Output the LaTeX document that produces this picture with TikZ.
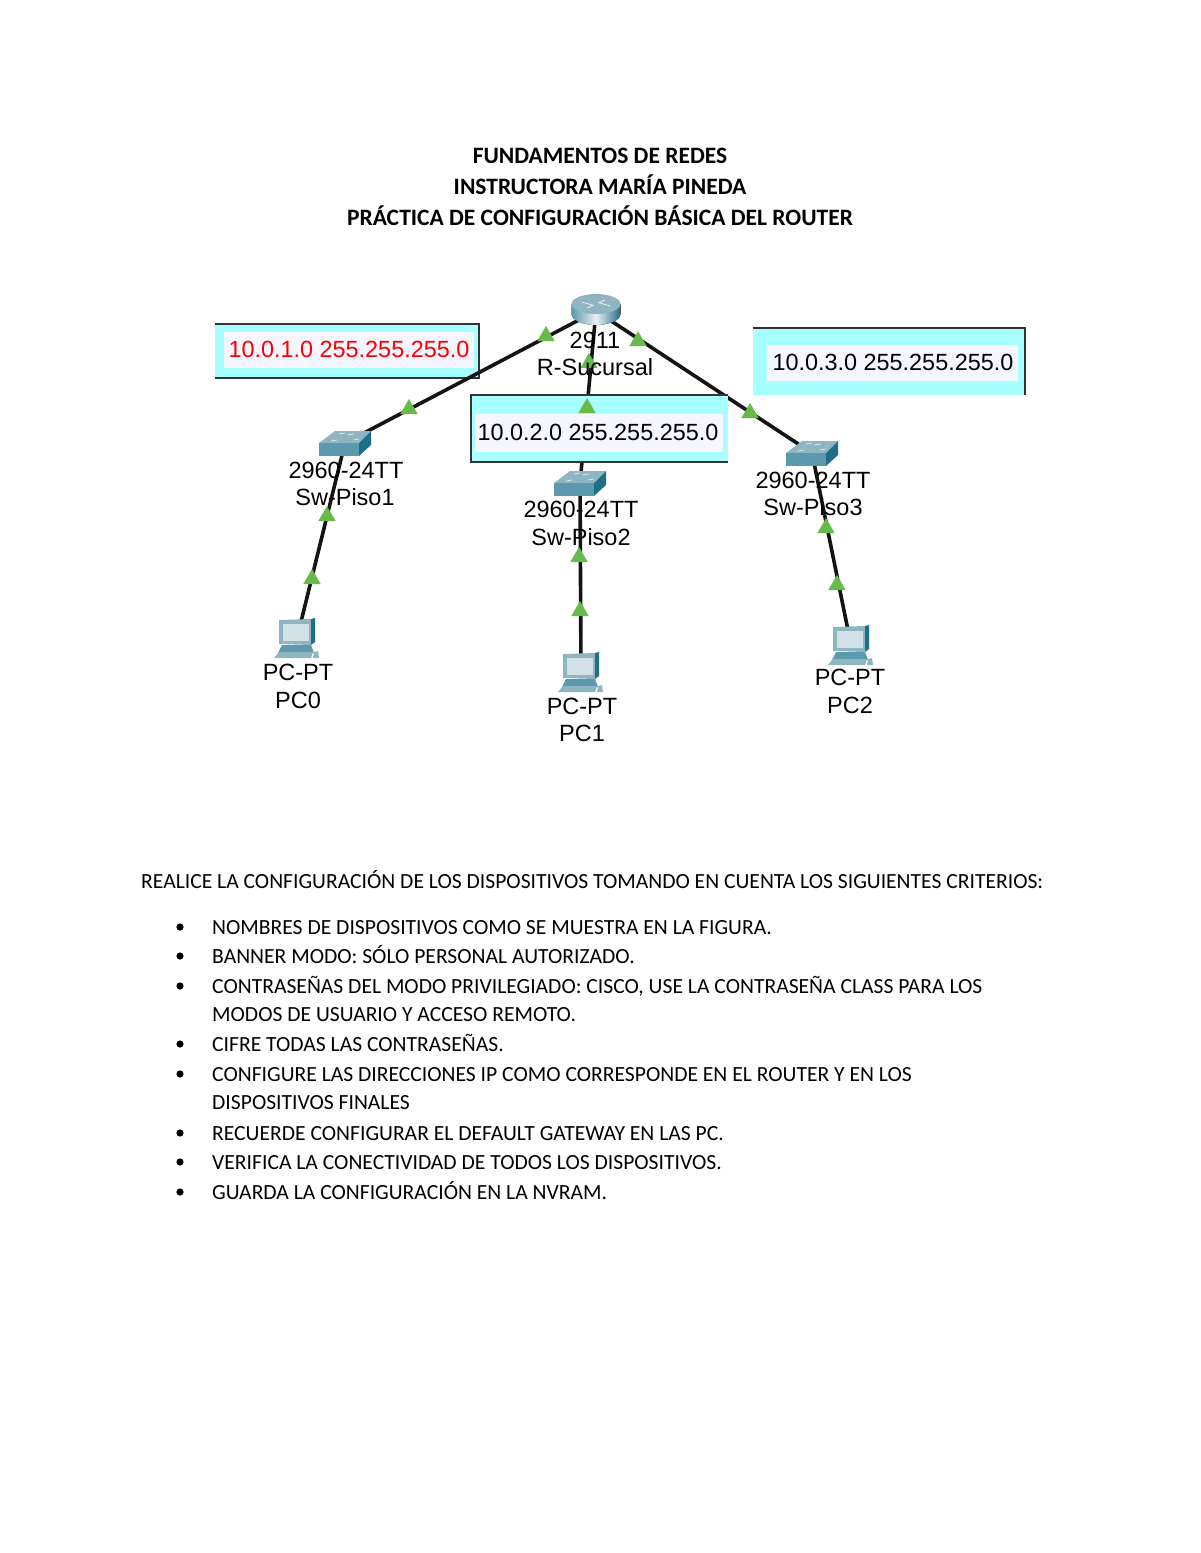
\documentclass[tikz,border=0pt]{standalone}
\usepackage{fontspec}
\setmainfont{Carlito}
\newfontfamily\devfont{Liberation Sans}
\usetikzlibrary{shapes.geometric}
\definecolor{netcyan}{HTML}{A8FFFF}
\definecolor{netpale}{HTML}{F5F6FF}
\definecolor{lnkgreen}{HTML}{66BB4A}
\definecolor{devtop}{HTML}{8FB4C2}
\definecolor{devfront}{HTML}{5C98AE}
\definecolor{devside}{HTML}{1F6F88}

\begin{document}
\begin{tikzpicture}[x=1pt,y=-1pt,
    titletext/.style={font=\fontsize{23.5}{26}\bfseries\selectfont,anchor=base,inner sep=0pt},
    bodytext/.style={font=\fontsize{21.6}{24}\selectfont,anchor=base west,inner sep=0pt},
    devlabel/.style={font=\devfont\fontsize{23.5}{26}\selectfont,anchor=base,text=black},
    netlabel/.style={font=\devfont\fontsize{23.4}{26}\selectfont,anchor=base},
    netedge/.style={draw=black!80,line width=1.2pt},
    lnk/.style={line width=3.6pt,black!92},
    lnkup/.style={regular polygon,regular polygon sides=3,fill=lnkgreen,inner sep=0pt,minimum size=20pt},
    routericon/.pic={
      \fill[left color=devfront,right color=devside,middle color=white!80!devtop]
        (-24.5,-7) -- (-24.5,3) arc[start angle=180,end angle=0,x radius=24.5,y radius=11] -- (24.5,-7) -- cycle;
      \fill[devtop] (0,-7) ellipse[x radius=24.5,y radius=10];
      \draw[white!85!devtop,line width=0.8pt] (-14,-9) -- (-4,-6) (14,-5) -- (4,-8) (-9,-3) -- (-2,-6) (9,-11) -- (2,-8);
    },
    switchicon/.pic={
      \fill[devtop] (-26,0) -- (-10,-12) -- (26,-12) -- (14,0) -- cycle;
      \fill[devfront] (-26,0) rectangle (14,13);
      \fill[devside] (14,0) -- (26,-12) -- (26,2) -- (14,13) -- cycle;
      \draw[white!75!devtop,line width=0.7pt] (-14,-2) -- (-8,-3) (2,-8) -- (9,-9) (-6,-9) -- (0,-10) (8,-3) -- (14,-4);
    },
    pcicon/.pic={
      \fill[devtop] (-18,-18) -- (14,-19) -- (14,7) -- (-18,6) -- cycle;
      \fill[devside] (14,-19) -- (18,-20) -- (18,4) -- (14,7) -- cycle;
      \fill[white!60!devtop] (-14,-14) rectangle (12,3);
      \fill[devfront] (-15,7) -- (14,7) -- (17,15) -- (-19,15) -- cycle;
      \fill[devtop] (-23,20) -- (-18,14) -- (16,14) -- (14,20) -- cycle;
      \fill[devtop] (17,14) -- (21,13) -- (22,20) -- (16,20) -- cycle;
    }]
  \useasboundingbox (0,0) rectangle (1200,1553);
  \fill[white] (0,0) rectangle (1200,1553);

  \node[titletext] (title1) at (600,163) {FUNDAMENTOS DE REDES};
  \node[titletext] (title2) at (600,194) {INSTRUCTORA MARÍA PINEDA};
  \node[titletext] (title3) at (600,225) {PRÁCTICA DE CONFIGURACIÓN BÁSICA DEL ROUTER};

  \coordinate (rSucursal) at (596,311);
  \coordinate (swPiso1) at (345,443);
  \coordinate (swPiso2) at (580,483);
  \coordinate (swPiso3) at (812,453);
  \coordinate (pc0) at (297,638);
  \coordinate (pc1) at (581,672);
  \coordinate (pc2) at (851,645);

  \fill[netcyan] (215,324) rectangle (479,378);
  \draw[netedge] (215,324) -- (479,324) -- (479,378) -- (215,378);
  \fill[netpale] (224,332) rectangle (474,368);
  \node[netlabel,text=red] (net1) at (349,357) {10.0.1.0 255.255.255.0};

  \draw[lnk] (rSucursal) -- (swPiso1);
  \draw[lnk] (rSucursal) -- (swPiso2);
  \draw[lnk] (rSucursal) -- (swPiso3);
  \draw[lnk] (swPiso1) -- (pc0);
  \draw[lnk] (swPiso2) -- (pc1);
  \draw[lnk] (swPiso3) -- (pc2);

  \fill[netcyan] (471,395) rectangle (728,462);
  \draw[netedge] (728,395) -- (471,395) -- (471,462) -- (728,462);
  \fill[netpale] (475,414) rectangle (723,452);
  \node[netlabel] (net2) at (598,440) {10.0.2.0 255.255.255.0};

  \fill[netcyan] (753,328) rectangle (1025,395);
  \draw[netedge] (753,328) -- (1025,328) -- (1025,395);
  \fill[netpale] (767,345) rectangle (1018,381);
  \node[netlabel] (net3) at (893,370) {10.0.3.0 255.255.255.0};

  \foreach \n/\x/\y in {a/546/336,b/409/409,c/589/363,d/587/408,e/638/341,f/750/413,g/327/516,h/312/579,i/579/557,j/580/611,k/826/528,l/837/585}
    \node[lnkup] (lnk\n) at (\x,\y) {};

  \pic at (rSucursal) {routericon};
  \pic at (swPiso1) {switchicon};
  \pic at (swPiso2) {switchicon};
  \pic at (swPiso3) {switchicon};
  \pic at (pc0) {pcicon};
  \pic at (pc1) {pcicon};
  \pic at (pc2) {pcicon};

  \node[devlabel] (lblR1) at (595,348) {2911};
  \node[devlabel] (lblR2) at (595,375) {R-Sucursal};
  \node[devlabel] (lblS1) at (346,478) {2960-24TT};
  \node[devlabel] (lblS1b) at (345,505) {Sw-Piso1};
  \node[devlabel] (lblS2) at (581,517) {2960-24TT};
  \node[devlabel] (lblS2b) at (581,545) {Sw-Piso2};
  \node[devlabel] (lblS3) at (813,488) {2960-24TT};
  \node[devlabel] (lblS3b) at (813,515) {Sw-Piso3};
  \node[devlabel] (lblP0) at (298,680) {PC-PT};
  \node[devlabel] (lblP0b) at (298,708) {PC0};
  \node[devlabel] (lblP1) at (582,714) {PC-PT};
  \node[devlabel] (lblP1b) at (582,741) {PC1};
  \node[devlabel] (lblP2) at (850,685) {PC-PT};
  \node[devlabel] (lblP2b) at (850,713) {PC2};

  \node[bodytext] (intro) at (141,888) {REALICE LA CONFIGURACIÓN DE LOS DISPOSITIVOS TOMANDO EN CUENTA LOS SIGUIENTES CRITERIOS:};
  \foreach \n/\y/\t in {
      1/934/{NOMBRES DE DISPOSITIVOS COMO SE MUESTRA EN LA FIGURA.},
      2/963/{BANNER MODO: SÓLO PERSONAL AUTORIZADO.},
      3/993/{CONTRASEÑAS DEL MODO PRIVILEGIADO: CISCO, USE LA CONTRASEÑA CLASS PARA LOS},
      5/1051/{CIFRE TODAS LAS CONTRASEÑAS.},
      6/1081/{CONFIGURE LAS DIRECCIONES IP COMO CORRESPONDE EN EL ROUTER Y EN LOS},
      8/1140/{RECUERDE CONFIGURAR EL DEFAULT GATEWAY EN LAS PC.},
      9/1169/{VERIFICA LA CONECTIVIDAD DE TODOS LOS DISPOSITIVOS.},
      10/1199/{GUARDA LA CONFIGURACIÓN EN LA NVRAM.}} {
    \node[bodytext] (item\n) at (212,\y) {\t};
    \fill (180,\y-7) circle[radius=3.6];
  }
  \node[bodytext] (item4) at (212,1021) {MODOS DE USUARIO Y ACCESO REMOTO.};
  \node[bodytext] (item7) at (212,1109) {DISPOSITIVOS FINALES};
\end{tikzpicture}
\end{document}
